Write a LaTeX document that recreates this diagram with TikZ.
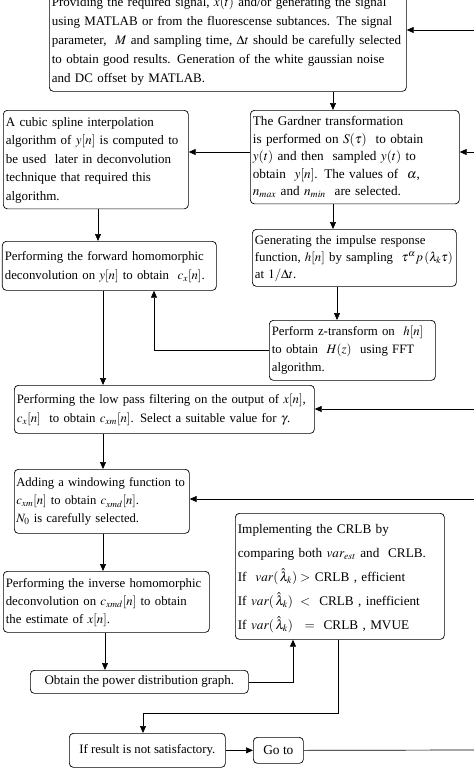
\documentclass[tikz,border=0pt]{standalone}
\usepackage{mathptmx}
\usepackage{fontspec}
\setmainfont{Liberation Serif}
\usetikzlibrary{arrows.meta}

% lines of a box, never broken
\newcommand{\boxlines}[1]{\noindent\begin{tabular}{@{}l@{}}#1\end{tabular}}

\tikzset{
  stepbox/.style={draw, line width=0.7pt, rounded corners=4pt, anchor=north west,
    align=left, inner sep=3pt, inner xsep=2pt, font=\fontsize{13}{18.5}\selectfont},
  flow/.style={draw, line width=0.7pt, -{Triangle[length=7pt,width=6pt]}},
  plain/.style={draw, line width=0.7pt},
}

\begin{document}
\begin{tikzpicture}[x=1pt,y=-1pt]
  \useasboundingbox (0,0) rectangle (474,772);
  \clip (0,0) rectangle (474,772);

% signal generation
  \node[stepbox, text width=352pt, minimum width=357pt, minimum height=96pt,
        font=\fontsize{13}{19}\selectfont] (signal) at (49,-10)
    {\boxlines{Providing the required signal, $x(t)$ and/or generating the signal\\
     using MATLAB or from the fluorescense subtances. The signal\\
     parameter,\ \ $M$ and sampling time, $\Delta t$ should be carefully selected\\
     to obtain good results. Generation of the white gaussian noise\\
     and DC offset by MATLAB.}};

% Gardner transformation and spline
  \node[stepbox, text width=204pt, minimum width=209pt, minimum height=89pt,
        font=\fontsize{13.2}{17.5}\selectfont] (gardner) at (250,110)
    {\boxlines{The Gardner transformation\\
     is performed on\ $S(\tau)$\ \ to obtain\\
     $y(t)$ and then\ \ sampled\ $y(t)$\ to\\
     obtain\ \ $y[n]$. The values of\ \ $\alpha$,\\
     $n_{max}$ and\ $n_{min}$\ \ are selected.}};
  \node[stepbox, text width=180pt, minimum width=185pt, minimum height=97pt,
        font=\fontsize{13}{18.5}\selectfont] (spline) at (3,110)
    {\boxlines{A cubic spline interpolation\\
     algorithm of\ $y[n]$\ is computed to\\
     be used\ \ later in deconvolution\\
     technique that required this\\
     algorithm.}};

% impulse response
  \node[stepbox, text width=199pt, minimum width=204pt, minimum height=56pt,
        font=\fontsize{12.8}{17}\selectfont] (impulse) at (252,229)
    {\boxlines{Generating the impulse response\\
     function, $h[n]$ by sampling\ \ $\tau^{\alpha}p\,(\lambda_k\tau)$\\
     at $1/\Delta t$.}};
  \node[stepbox, text width=161pt, minimum width=166pt, minimum height=60pt,
        font=\fontsize{12.8}{18}\selectfont] (ztrans) at (269,320)
    {\boxlines{Perform z-transform on\ \ $h[n]$\\
     to obtain\ \ $H(z)$\ \ using FFT\\
     algorithm.}};

% homomorphic deconvolution
  \node[stepbox, text width=209pt, minimum width=214pt, minimum height=49pt,
        font=\fontsize{12.8}{19}\selectfont] (forward) at (2,241)
    {\boxlines{Performing the forward homomorphic\\
     deconvolution on $y[n]$ to obtain\ \ $c_x[n]$.}};
  \node[stepbox, text width=295pt, minimum width=300pt, minimum height=48pt,
        font=\fontsize{12.8}{19}\selectfont] (lowpass) at (14,385)
    {\boxlines{Performing the low pass filtering on the output of $x[n]$,\\
     $c_x[n]$\ \ to obtain $c_{xm}[n]$. Select a suitable value for\ $\gamma$.}};
  \node[stepbox, text width=171pt, minimum width=175pt, minimum height=64pt, inner xsep=1.5pt,
        font=\fontsize{12.6}{18}\selectfont] (window) at (14,469)
    {\boxlines{Adding a windowing function to\\
     $c_{xm}[n]$ to obtain $c_{xmd}[n]$.\\
     $N_0$ is carefully selected.}};
  \node[stepbox, text width=201pt, minimum width=206pt, minimum height=61pt,
        font=\fontsize{12.8}{18}\selectfont] (inverse) at (3,571)
    {\boxlines{Performing the inverse homomorphic\\
     deconvolution on $c_{xmd}[n]$ to obtain\\
     the estimate of\ $x[n]$.}};

% CRLB
  \node[stepbox, text width=204pt, minimum width=209pt, minimum height=123pt,
        font=\fontsize{13.2}{24}\selectfont] (crlb) at (235,513)
    {\boxlines{Implementing the CRLB by\\
     comparing both $var_{est}$ and\ \ CRLB.\\
     If\ \ $var(\,\hat{\lambda}_k) >$ CRLB , efficient\\
     If $var(\,\hat{\lambda}_k)\ <$\ \ CRLB , inefficient\\
     If $var(\,\hat{\lambda}_k)\ \ =$\ \ CRLB , MVUE}};

% result
  \node[stepbox, minimum width=218pt, minimum height=23pt] (power) at (30,670)
    {Obtain the power distribution graph.};
  \node[stepbox, minimum width=156pt, minimum height=34pt,
        font=\fontsize{12.8}{16}\selectfont] (result) at (69,733)
    {If result is not satisfactory.};
  \node[stepbox, minimum width=50pt, minimum height=26pt,
        font=\fontsize{13.4}{16}\selectfont] (goto) at (253,737)
    {Go to};

% free ends at the right margin
  \coordinate (inA) at (474,30);
  \coordinate (inB) at (474,152);
  \coordinate (inC) at (474,409);
  \coordinate (inD) at (474,499);
  \coordinate (outE) at (474,750);

% connectors
  \draw[flow] (inA) -- (inA -| signal.east);
  \draw[flow] (333,0 |- signal.south) -- (333,0 |- gardner.north);
  \draw[flow] (inB) -- (inB -| gardner.east);
  \draw[flow] (gardner.west |- 0,152) -- (spline.east |- 0,152);
  \draw[flow] (333,0 |- gardner.south) -- (333,0 |- impulse.north);
  \draw[flow] (337,0 |- impulse.south) -- (337,0 |- ztrans.north);
  \draw[flow] (98,0 |- spline.south) -- (98,0 |- forward.north);
  \draw[flow] (ztrans.west |- 0,350) -| (154,0 |- forward.south);
  \draw[flow] (103,0 |- forward.south) -- (103,0 |- lowpass.north);
  \draw[flow] (inC) -- (inC -| lowpass.east);
  \draw[flow] (103,0 |- lowpass.south) -- (103,0 |- window.north);
  \draw[flow] (inD) -- (inD -| window.east);
  \draw[flow] (103,0 |- window.south) -- (103,0 |- inverse.north);
  \draw[flow] (105,0 |- inverse.south) -- (105,0 |- power.north);
  \draw[flow] (power.east) -| (293,0 |- crlb.south);
  \draw[flow] (338,0 |- crlb.south) |- (143,713) -- (143,0 |- result.north);
  \draw[flow] (result.east) -- (goto.west);
  \draw[plain] (goto.east) -- (outE);

\end{tikzpicture}
\end{document}
